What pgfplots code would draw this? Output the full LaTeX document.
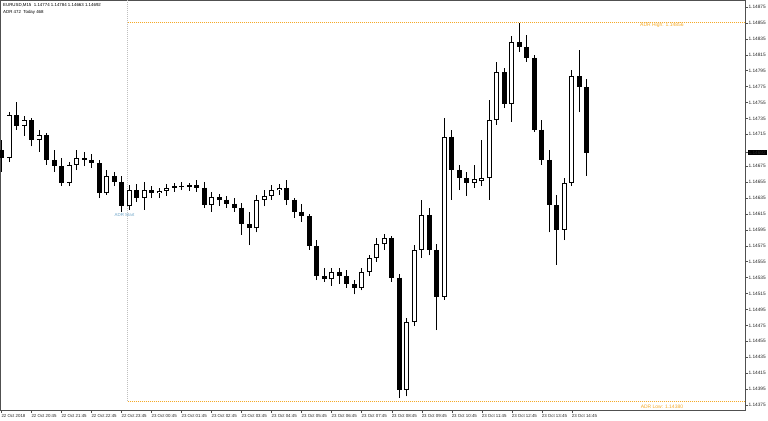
\documentclass[border=0pt]{standalone}
\usepackage{pgfplots}
\pgfplotsset{compat=1.18}
\usepackage{pgfplotstable}
\usepackage{fontspec}
\setmainfont{Liberation Sans}

\definecolor{adr}{RGB}{245,170,40}
\definecolor{adrstart}{RGB}{110,165,200}
\definecolor{framec}{RGB}{80,80,80}

% M15 bars, x = bar number (0 = 22 Oct 19:45)
\pgfplotstableread{
x o h l c
1 1.14685 1.14743 1.14680 1.14739
3 1.14726 1.14738 1.14713 1.14733
5 1.14708 1.14721 1.14693 1.14714
9 1.14654 1.14680 1.14650 1.14677
10 1.14677 1.14695 1.14670 1.14685
14 1.14641 1.14670 1.14639 1.14663
17 1.14625 1.14651 1.14620 1.14645
19 1.14635 1.14655 1.14620 1.14645
21 1.14641 1.14648 1.14635 1.14644
22 1.14644 1.14653 1.14638 1.14648
23 1.14648 1.14654 1.14643 1.14650
25 1.14649 1.14654 1.14644 1.14651
28 1.14626 1.14643 1.14618 1.14636
34 1.14597 1.14639 1.14592 1.14633
35 1.14633 1.14645 1.14625 1.14638
36 1.14638 1.14651 1.14633 1.14645
37 1.14645 1.14653 1.14639 1.14648
44 1.14533 1.14547 1.14525 1.14542
48 1.14522 1.14547 1.14519 1.14542
49 1.14542 1.14563 1.14537 1.14560
50 1.14560 1.14585 1.14555 1.14577
51 1.14577 1.14590 1.14570 1.14585
54 1.14394 1.14484 1.14386 1.14479
55 1.14479 1.14576 1.14474 1.14570
56 1.14570 1.14633 1.14560 1.14614
59 1.14511 1.14736 1.14507 1.14712
63 1.14654 1.14677 1.14648 1.14659
64 1.14656 1.14708 1.14650 1.14660
65 1.14660 1.14758 1.14633 1.14733
66 1.14733 1.14806 1.14727 1.14793
68 1.14753 1.14839 1.14731 1.14831
75 1.14595 1.14660 1.14582 1.14654
76 1.14654 1.14796 1.14650 1.14788
}\bull

\pgfplotstableread{
x o h l c
0 1.14695 1.14708 1.14668 1.14685
2 1.14739 1.14756 1.14721 1.14726
4 1.14733 1.14736 1.14700 1.14708
6 1.14714 1.14717 1.14677 1.14683
7 1.14683 1.14695 1.14668 1.14675
8 1.14675 1.14685 1.14650 1.14654
11 1.14685 1.14693 1.14675 1.14683
12 1.14683 1.14690 1.14673 1.14679
13 1.14679 1.14683 1.14635 1.14641
15 1.14663 1.14668 1.14650 1.14655
16 1.14655 1.14663 1.14618 1.14625
18 1.14645 1.14653 1.14630 1.14635
20 1.14645 1.14650 1.14635 1.14641
24 1.14650 1.14655 1.14645 1.14649
26 1.14651 1.14658 1.14643 1.14648
27 1.14648 1.14655 1.14623 1.14626
29 1.14636 1.14640 1.14625 1.14633
30 1.14633 1.14638 1.14623 1.14628
31 1.14628 1.14635 1.14618 1.14623
32 1.14623 1.14629 1.14589 1.14602
33 1.14602 1.14618 1.14576 1.14597
38 1.14648 1.14658 1.14626 1.14633
39 1.14633 1.14635 1.14610 1.14618
40 1.14618 1.14628 1.14605 1.14612
41 1.14612 1.14615 1.14570 1.14575
42 1.14575 1.14582 1.14532 1.14537
43 1.14537 1.14547 1.14530 1.14533
45 1.14542 1.14547 1.14527 1.14537
46 1.14537 1.14545 1.14522 1.14527
47 1.14527 1.14532 1.14514 1.14522
52 1.14585 1.14587 1.14530 1.14535
53 1.14535 1.14540 1.14384 1.14394
57 1.14614 1.14623 1.14563 1.14570
58 1.14570 1.14577 1.14469 1.14511
60 1.14712 1.14721 1.14633 1.14670
61 1.14670 1.14677 1.14645 1.14660
62 1.14660 1.14668 1.14638 1.14654
67 1.14793 1.14798 1.14748 1.14753
69 1.14831 1.14855 1.14819 1.14825
70 1.14825 1.14840 1.14806 1.14811
71 1.14811 1.14815 1.14718 1.14721
72 1.14721 1.14733 1.14677 1.14683
73 1.14683 1.14695 1.14592 1.14626
74 1.14626 1.14639 1.14551 1.14595
77 1.14788 1.14821 1.14743 1.14774
78 1.14774 1.14784 1.14663 1.14692
}\bear

\begin{document}
\begin{tikzpicture}
\useasboundingbox (0bp,-10.5bp) rectangle (768bp,410.5bp);
\begin{axis}[
  at={(0bp,0bp)}, anchor=south west,
  width=745bp, height=410.5bp, scale only axis,
  xmin=-0.2, xmax=99.07,
  ymin=1.143681, ymax=1.148838,
  axis line style={framec, line width=0.6bp},
  tick align=outside, major tick length=2.5bp,
  tick style={framec, line width=0.5bp},
  ytick pos=right, yticklabel pos=right,
  xtick pos=left, xticklabel pos=left,
  scaled y ticks=false,
  ytick={1.14375,1.14395,1.14415,1.14435,1.14455,1.14475,1.14495,1.14515,
         1.14535,1.14555,1.14575,1.14595,1.14615,1.14635,1.14655,1.14675,
         1.14715,1.14735,1.14755,1.14775,1.14795,1.14815,1.14835,1.14855,1.14875},
  y tick label style={font=\fontsize{4.8}{5.5}\selectfont, text=black!85, inner sep=0.8bp,
    /pgf/number format/.cd, fixed, fixed zerofill, precision=5, assume math mode=true},
  extra y ticks={1.14692},
  extra y tick style={tick label style={fill=black, text=white}},
  xtick={0,4,...,76},
  xticklabels={22 Oct 2018, 22 Oct 20:45, 22 Oct 21:45, 22 Oct 22:45, 22 Oct 23:45,
    23 Oct 00:45, 23 Oct 01:45, 23 Oct 02:45, 23 Oct 03:45, 23 Oct 04:45,
    23 Oct 05:45, 23 Oct 06:45, 23 Oct 07:45, 23 Oct 08:45, 23 Oct 09:45,
    23 Oct 10:45, 23 Oct 11:45, 23 Oct 12:45, 23 Oct 13:45, 23 Oct 14:45},
  x tick label style={font=\fontsize{4.4}{5}\selectfont, text=black!85,
    anchor=north west, inner sep=0.8bp, xshift=-1bp},
]
% ADR lines
\addplot [gray!50, line width=0.6bp, dash pattern=on 1bp off 1bp]
  coordinates {(16.8,1.14380) (16.8,1.148838)};
\addplot [adr, line width=0.7bp, dash pattern=on 1bp off 1bp]
  coordinates {(16.8,1.14856) (99.07,1.14856)};
\addplot [adr, line width=0.7bp, dash pattern=on 1bp off 1bp]
  coordinates {(16.8,1.14380) (99.07,1.14380)};

% wicks: low to high
\addplot [black, line width=0.9bp, quiver={u=0, v=\thisrow{h}-\thisrow{l}}]
  table [x=x, y=l] {\bull};
\addplot [black, line width=0.9bp, quiver={u=0, v=\thisrow{h}-\thisrow{l}}]
  table [x=x, y=l] {\bear};
% bodies: open to close
\addplot [black, line width=5bp, quiver={u=0, v={min(\thisrow{c}-\thisrow{o},-0.000012)}}]
  table [x=x, y=o] {\bear};
\addplot [black, line width=5bp, quiver={u=0, v={max(\thisrow{c}-\thisrow{o},0.000012)}}]
  table [x=x, y=o] {\bull};
\addplot [white, line width=3.1bp, quiver={u=0, v={max(\thisrow{c}-\thisrow{o}-0.000024,0)}}]
  table [x=x, y expr={\thisrow{o}+0.000012}] {\bull};

% texts
\node [anchor=west, inner sep=0pt, font=\fontsize{4.4}{5}\selectfont]
  at (rel axis cs:0.004,0.9878) {EURUSD,M15\ \ 1.14774 1.14784 1.14663 1.14692};
\node [anchor=west, inner sep=0pt, font=\fontsize{4.4}{5}\selectfont]
  at (rel axis cs:0.004,0.9708) {ADR 472\ \ Today 468};
\node [text=adr, inner sep=0pt, font=\fontsize{5}{6}\selectfont]
  at (axis cs:88,1.14852) {ADR High: 1.14856};
\node [text=adr, inner sep=0pt, font=\fontsize{5}{6}\selectfont]
  at (axis cs:88,1.14373) {ADR Low: 1.14380};
\node [text=adrstart, inner sep=0pt, font=\fontsize{4.4}{5}\selectfont]
  at (axis cs:16.4,1.14614) {ADR Start};
\end{axis}
\end{tikzpicture}
\end{document}
